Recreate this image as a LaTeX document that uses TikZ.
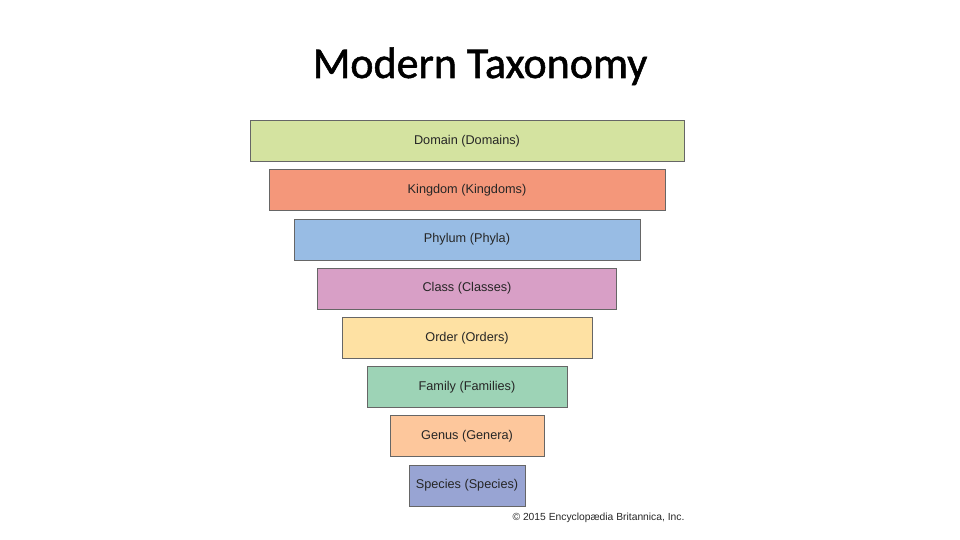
\documentclass[tikz,border=0pt]{standalone}
\usepackage{fontspec}
\setmainfont{Liberation Sans}
\newfontfamily\titlefont[FakeBold=1.2]{Carlito}

\begin{document}
\begin{tikzpicture}[
	x = 1pt, y = -1pt,
	rank/.style = {
		draw = black!60, line width = 0.8pt, inner sep = 0pt,
		minimum height = 41pt, text = black!85,
		font = \fontsize{12.7}{14}\selectfont
	}
]

\useasboundingbox (0, 0) rectangle (960, 540);

\node[anchor = base, font = \titlefont\fontsize{44}{48}\selectfont] (title) at (480, 78) {Modern Taxonomy};

\foreach \i/\w/\col/\txt in {
	1/434/D4E3A0/Domain (Domains),
	2/396/F4977A/Kingdom (Kingdoms),
	3/346/98BCE4/Phylum (Phyla),
	4/299/D89FC6/Class (Classes),
	5/250/FEE1A3/Order (Orders),
	6/200/9DD3B6/Family (Families),
	7/154/FDC79C/Genus (Genera),
	8/116/98A4D3/Species (Species)} {
	\definecolor{rankfill}{HTML}{\col}
	\node[rank, fill = rankfill, minimum width = \w pt] (rank\i) at (467, {141 + 49.2 * (\i - 1)}) {\txt};
}

\node[anchor = east, font = \fontsize{10.3}{12}\selectfont, text = black!85] (credit) at (688, 518) {© 2015 Encyclopædia Britannica, Inc.};
\end{tikzpicture}
\end{document}
